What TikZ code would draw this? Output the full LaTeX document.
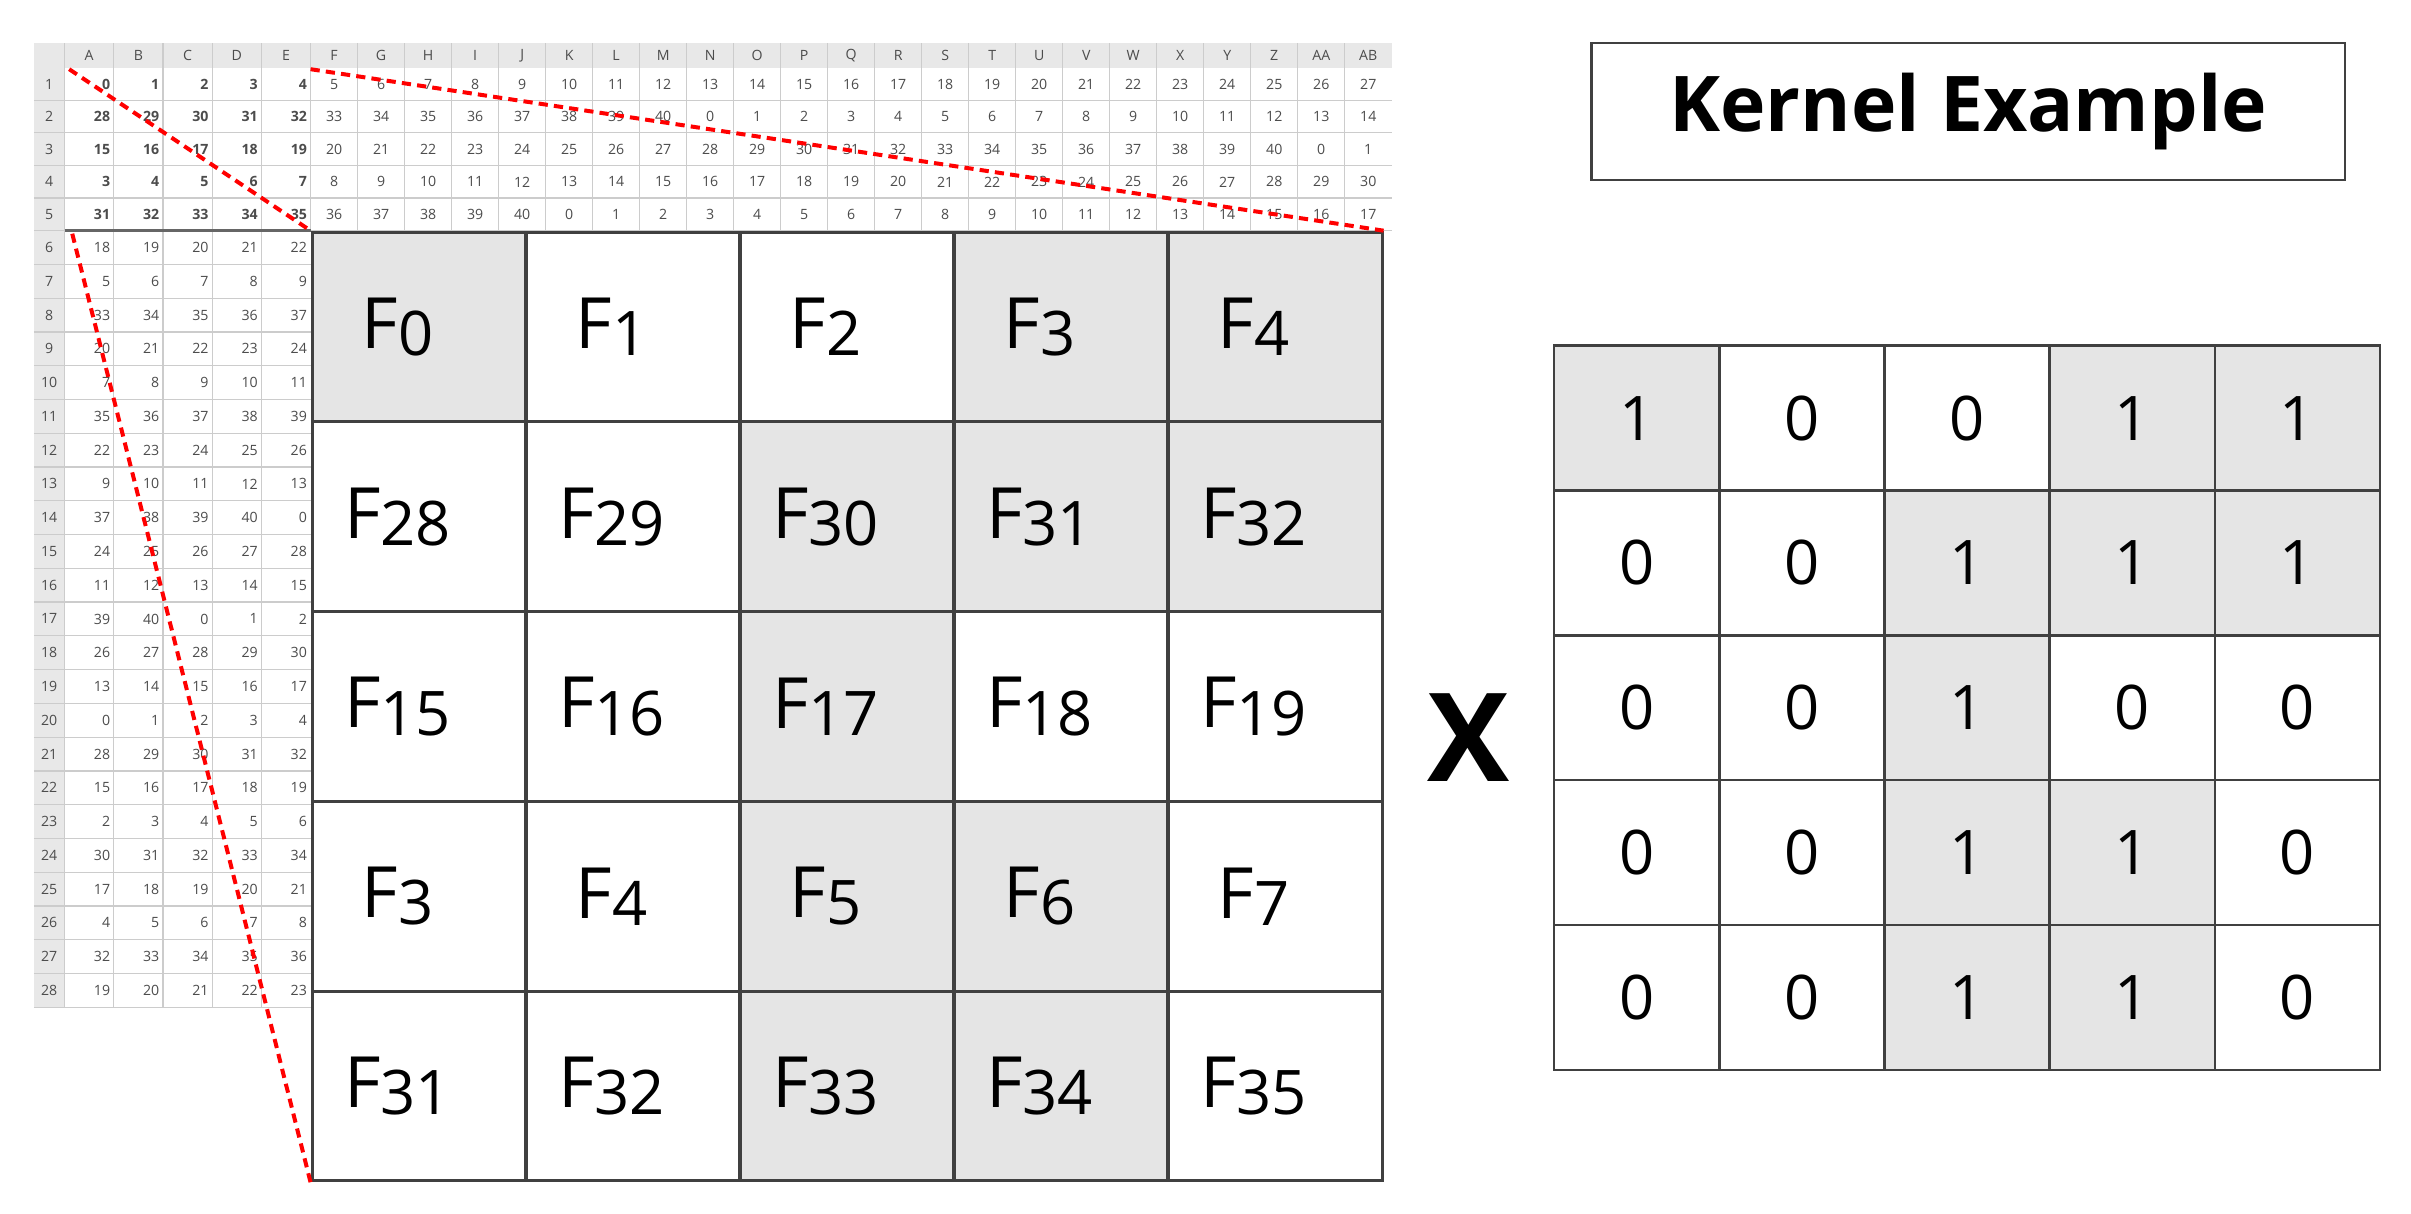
\documentclass[tikz,border=0pt]{standalone}
\usepackage{fontspec}
\setmainfont{Open Sans}[BoldFont={Open Sans Bold}]
\begin{document}
\begin{tikzpicture}[x=0.5pt,y=-0.5pt,
  cellbox/.style={draw=black!75,line width=1pt,minimum width=69.5pt,minimum height=61.7pt,anchor=north west,inner sep=0pt},
  kbox/.style={draw=black!75,line width=0.8pt,minimum width=53.7pt,minimum height=47.1pt,anchor=north west,inner sep=0pt,font=\fontsize{20}{20}\selectfont},
  shade/.style={fill=black!10},
  plain/.style={fill=white},
  hdr/.style={fill=black!9},
  tiny/.style={font=\fontsize{4.6}{5}\selectfont,text=black!70,inner sep=0pt},
  guide/.style={red,line width=1.3pt,dash pattern=on 3pt off 2pt}]
\useasboundingbox (0,0) rectangle (1568,789);
\fill[white] (0,0) rectangle (1568,789);
% spreadsheet headers
\fill[hdr] (22,28) rectangle (905,44);
\fill[hdr] (22,28) rectangle (42,655);
\foreach \c [count=\i from 0] in {A,B,C,D,E} {
  \node[tiny] (ch\i) at (58+32*\i,36) {\c};
  \draw[black!20] (42+32*\i,28) -- (42+32*\i,655);
}
\foreach \c [count=\i from 0] in {F,G,H,I,J,K,L,M,N,O,P,Q,R,S,T,U,V,W,X,Y,Z,AA,AB} {
  \node[tiny] (cf\i) at (217.3+30.57*\i,36) {\c};
  \draw[black!20] (202+30.57*\i,28) -- (202+30.57*\i,150);
}
\foreach \s [count=\r] in {0,28,15,3,31} {
  \node[tiny] (rh\r) at (32,33.5+21.2*\r) {\r};
  \draw[black!20] (22,44+21.2*\r) -- (905,44+21.2*\r);
  \foreach \i in {0,...,4} {
    \pgfmathtruncatemacro\v{mod(\s+\i,41)}
    \node[tiny,anchor=east,font=\fontsize{4.6}{5}\selectfont\bfseries] (a\r x\i) at (72+32*\i,33.5+21.2*\r) {\v};
  }
  \foreach \i in {0,...,22} {
    \pgfmathtruncatemacro\v{mod(\s+5+\i,41)}
    \node[tiny] (b\r x\i) at (217.3+30.57*\i,33.5+21.2*\r) {\v};
  }
}
\foreach \s [count=\k] in {18,5,33,20,7,35,22,9,37,24,11,39,26,13,0,28,15,2,30,17,4,32,19} {
  \pgfmathtruncatemacro\r{\k+5}
  \node[tiny] (rh\r) at (32,139+21.96*\k) {\r};
  \draw[black!20] (22,150+21.96*\k) -- (202,150+21.96*\k);
  \foreach \i in {0,...,4} {
    \pgfmathtruncatemacro\v{mod(\s+\i,41)}
    \node[tiny,anchor=east] (c\r x\i) at (72+32*\i,139+21.96*\k) {\v};
  }
}
\draw[black!60,line width=1pt] (42,150) -- (202,150);
% feature grid
\foreach \row [count=\j from 0] in {{0,1,2,3,4},{28,29,30,31,32},{15,16,17,18,19},{3,4,5,6,7},{31,32,33,34,35}} {
  \foreach \n [count=\i from 0] in \row {
    \pgfmathtruncatemacro\sh{
      (\j==0 && (\i==0 || \i>2)) || (\j==1 && \i>1) || (\j==2 && \i==2) || (\j>2 && (\i==2 || \i==3))}
    \ifnum\sh=1 \def\st{shade}\else\def\st{plain}\fi
    \node[cellbox,\st] (f\j x\i) at (202+139.2*\i,150+123.4*\j) {\hspace*{-14pt}\fontsize{23}{23}\selectfont F\raisebox{-0.1em}{\fontsize{20}{20}\selectfont\n}};
  }
}
% guides
\coordinate (g1) at (45,45);
\coordinate (g2) at (202,45);
\coordinate (g3) at (47,152);
\draw[guide] (g1) -- (f0x0.north west);
\draw[guide] (g2) -- (f0x4.north east);
\draw[guide] (g3) -- (f4x0.south west);
% times
\node[font=\fontsize{40}{40}\selectfont\bfseries] (times) at (955,480) {X};
% kernel title
\node[draw=black!75,line width=0.8pt,minimum width=245pt,minimum height=44.5pt,font=\fontsize{25}{25}\selectfont\bfseries] (title) at (1280,72.5) {Kernel Example};
% kernel grid
\foreach \row [count=\j from 0] in {{1,0,0,1,1},{0,0,1,1,1},{0,0,1,0,0},{0,0,1,1,0},{0,0,1,1,0}} {
  \foreach \n [count=\i from 0] in \row {
    \ifnum\n=1 \def\st{shade}\else\def\st{plain}\fi
    \node[kbox,\st] (k\j x\i) at (1010+107.4*\i,224+94.2*\j) {\n};
  }
}
\end{tikzpicture}
\end{document}
